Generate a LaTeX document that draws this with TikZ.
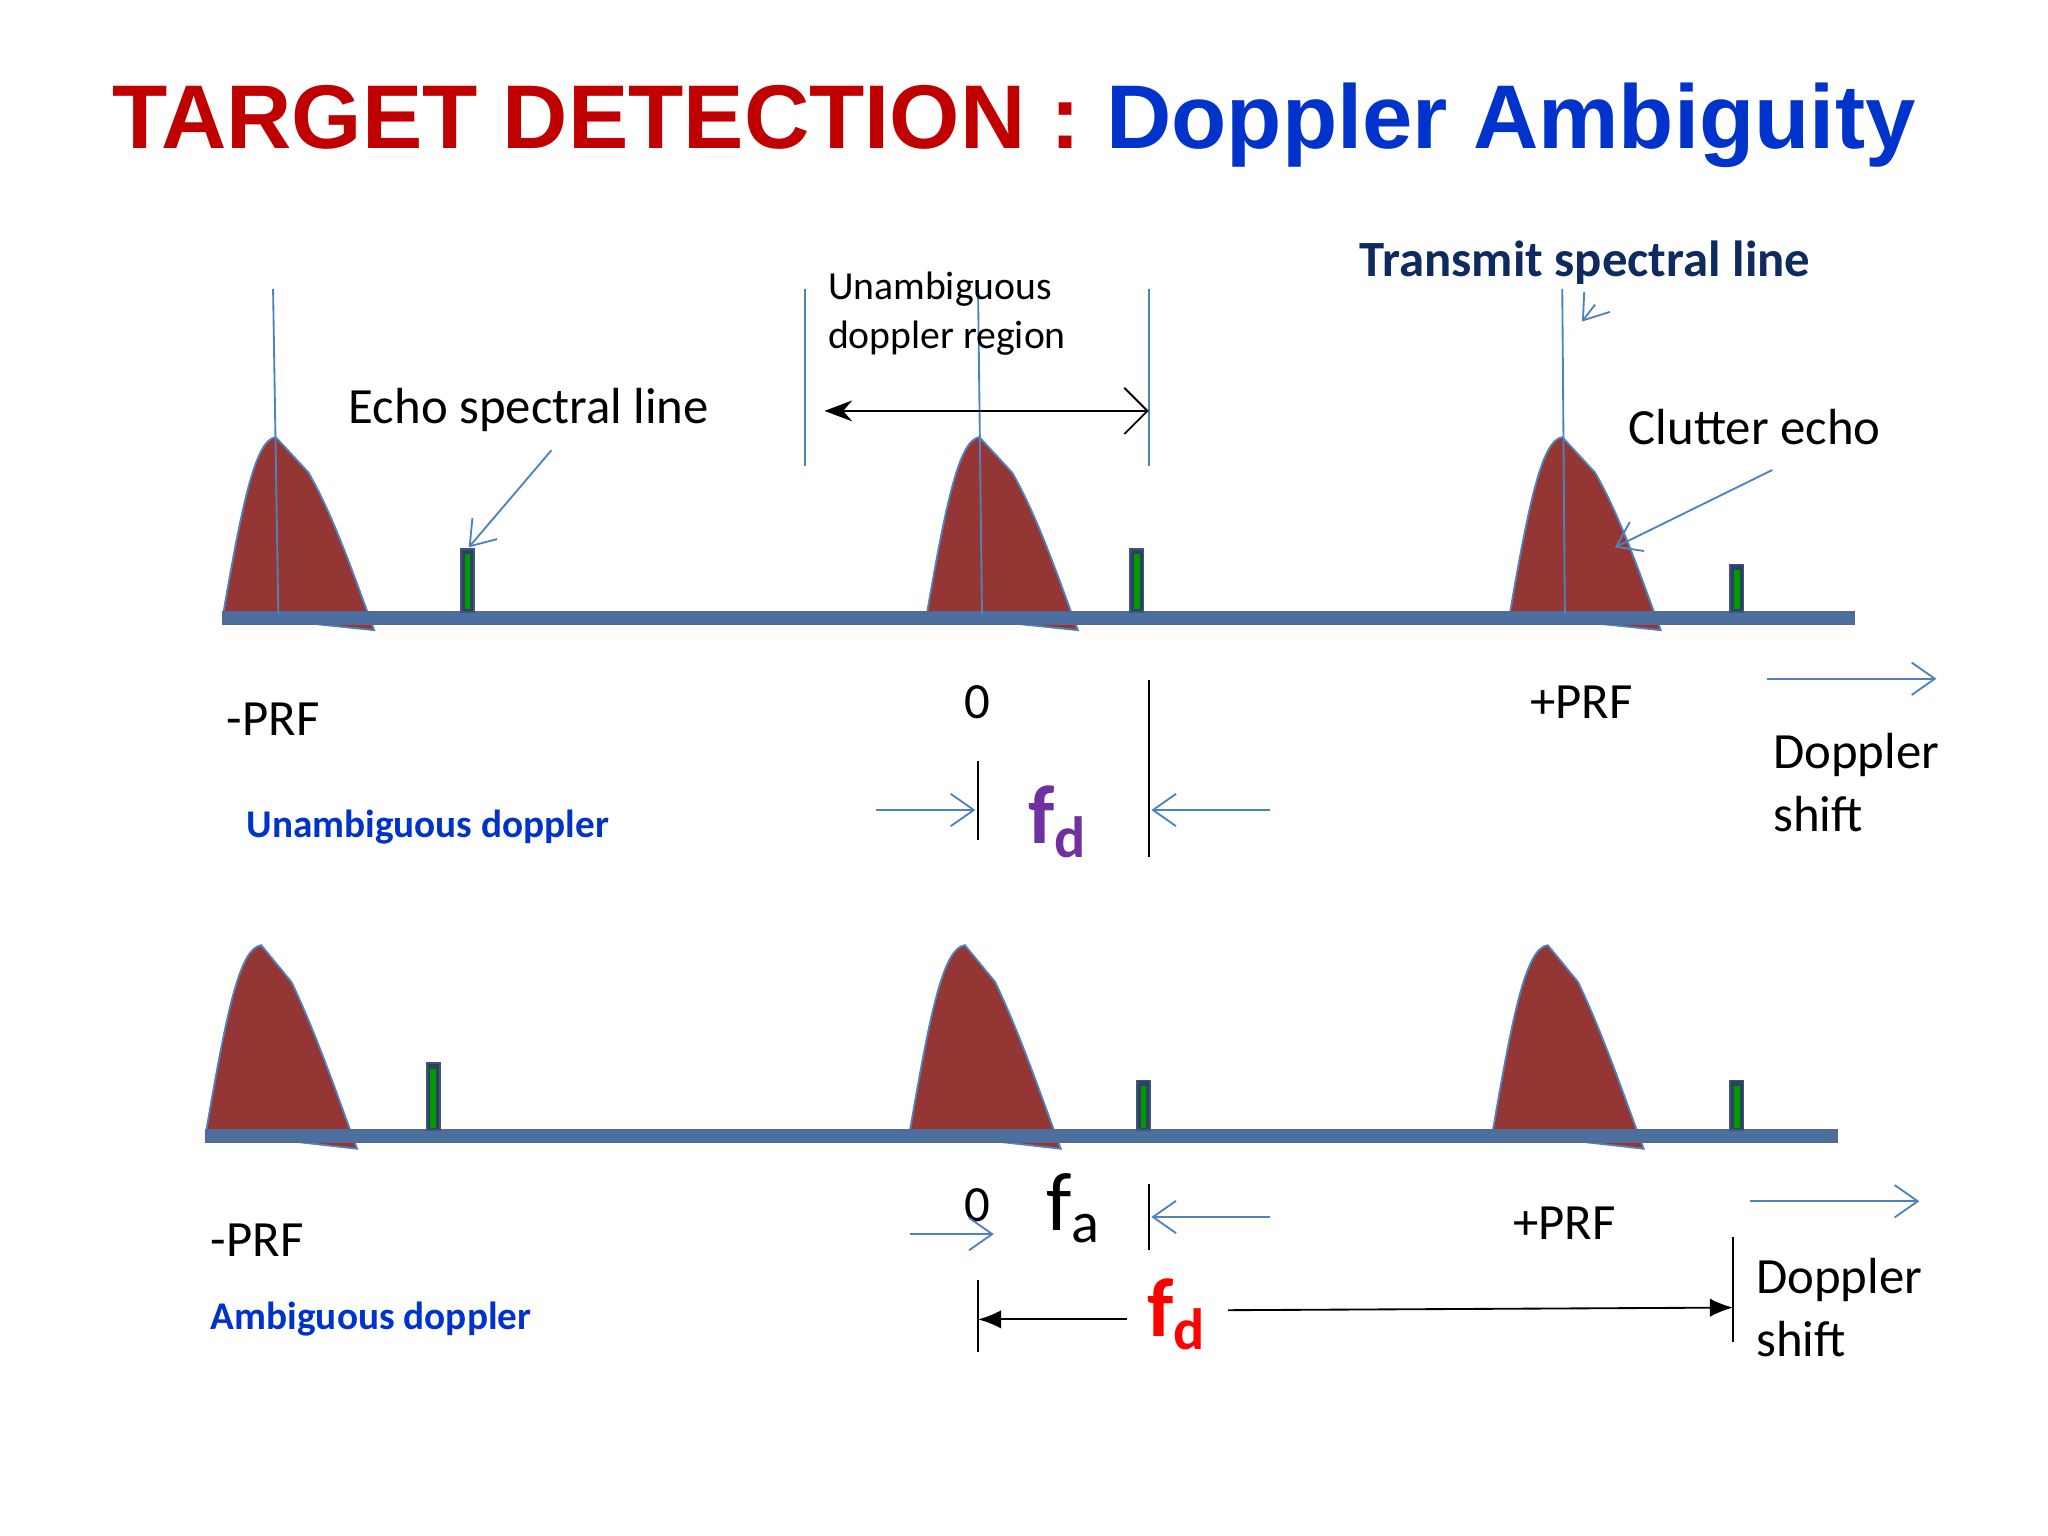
\documentclass[tikz,border=0pt]{standalone}
\usepackage{fontspec}
\setmainfont{Carlito}
\newfontfamily\titlefont{Liberation Sans}
\usetikzlibrary{arrows.meta}
\definecolor{brn}{HTML}{943634}
\definecolor{edge}{HTML}{4F81BD}
\definecolor{axisc}{HTML}{4A6FA0}
\definecolor{navy}{HTML}{0F2A5E}
\definecolor{tred}{HTML}{C00000}
\definecolor{tblue}{HTML}{0033CC}
\definecolor{purp}{HTML}{7030A0}
\begin{document}
\begin{tikzpicture}[x=0.01cm,y=-0.01cm,
  txt/.style={font=\fontsize{11}{13.6}\selectfont,inner sep=0,anchor=west},
  small/.style={font=\fontsize{8.6}{10.5}\selectfont,inner sep=0,anchor=west,align=left},
  lab/.style={font=\bfseries\fontsize{8.5}{10}\selectfont,text=tblue,inner sep=0,anchor=west},
  bl/.style={draw=edge,thin},
  barr/.style={draw=edge,thin,-{Straight Barb[length=5pt,width=7pt]}},
  karr/.style={draw=black,thin,-{Latex[length=5pt,width=4pt]}},
  peak/.style={fill=brn,draw=edge,thin},
  axis/.style={fill=axisc,draw=navy!70,thin},
  gbar/.style={fill=axisc!60!black,draw=navy!80}]
\useasboundingbox (0,0) rectangle (1560,1170);
\node[inner sep=0,anchor=base west] (title) at (85,113) {\titlefont\bfseries\fontsize{19.6}{22}\selectfont\textcolor{tred}{TARGET DETECTION : }\textcolor{tblue}{Doppler Ambiguity}};
% top row
\foreach \x in {170,706,1150}{
  \path[peak] (\x,468) .. controls (\x+15,380) and (\x+25,335) .. (\x+40,333) -- (\x+65,360) .. controls (\x+85,395) and (\x+100,440) .. (\x+115,480) -- cycle;}
\path[axis] (170,466) rectangle (1412,475);
\foreach \x/\t in {356/418,866/418,1323/430}{
  \path[gbar] (\x-5,\t) rectangle (\x+5,466);
  \draw[green!60!black,line width=1.2pt] (\x,\t+4) -- (\x,464);}
\coordinate (v1a) at (208,220); \coordinate (v1b) at (212,468);
\coordinate (v2a) at (745,220); \coordinate (v2b) at (748,468);
\coordinate (v3a) at (1190,220); \coordinate (v3b) at (1192,468);
\coordinate (v4a) at (613,220); \coordinate (v4b) at (613,355);
\coordinate (v5a) at (875,220); \coordinate (v5b) at (875,355);
\foreach \n in {1,...,5} \draw[bl] (v\n a) -- (v\n b);
\coordinate (d1) at (628,313); \coordinate (d2) at (875,313);
\draw[thin,{Stealth[length=6pt]}-{Straight Barb[length=5pt]}] (d1) -- (d2);
\node[small] (unreg) at (630,239) {Unambiguous\\doppler region};
\node[txt] (echo) at (265,312) {Echo spectral line};
\coordinate (e1) at (420,343); \coordinate (e2) at (357,417);
\draw[barr] (e1) -- (e2);
\node[txt,font=\bfseries\fontsize{11}{13}\selectfont,text=navy] (trans) at (1035,200) {Transmit spectral line};
\coordinate (t1) at (1215,232); \coordinate (t2) at (1205,245);
\draw[barr] (t1) -- (t2);
\node[txt] (clut) at (1240,325) {Clutter echo};
\coordinate (c1) at (1350,358); \coordinate (c2) at (1230,417);
\draw[barr] (c1) -- (c2);
\node[txt] (mprf1) at (172,548) {-PRF};
\node[txt] (zero1) at (734,535) {0};
\node[txt] (pprf1) at (1165,535) {+PRF};
\coordinate (s1) at (1346,517); \coordinate (s2) at (1475,517);
\draw[barr] (s1) -- (s2);
\node[txt,align=left] (ds1) at (1350,596) {Doppler\\shift};
\node[lab] (unamb) at (187,630) {Unambiguous doppler};
\coordinate (l1a) at (745,580); \coordinate (l1b) at (745,640);
\coordinate (l2a) at (875,518); \coordinate (l2b) at (875,653);
\draw (l1a) -- (l1b); \draw (l2a) -- (l2b);
\coordinate (a1) at (667,617); \coordinate (a2) at (743,617);
\coordinate (a3) at (967,617); \coordinate (a4) at (877,617);
\draw[barr] (a1) -- (a2); \draw[barr] (a3) -- (a4);
\node[inner sep=0,text=purp,font=\bfseries\fontsize{18}{22}\selectfont] (fd1) at (806,626) {f\textsubscript{d}};
% bottom row
\foreach \x in {157,693,1137}{
  \path[peak] (\x,862) .. controls (\x+15,775) and (\x+25,722) .. (\x+42,720) -- (\x+65,748) .. controls (\x+85,790) and (\x+100,835) .. (\x+115,875) -- cycle;}
\path[axis] (157,861) rectangle (1399,870);
\foreach \x/\t in {330/810,871/823,1323/823}{
  \path[gbar] (\x-5,\t) rectangle (\x+5,861);
  \draw[green!60!black,line width=1.2pt] (\x,\t+4) -- (\x,859);}
\node[txt] (mprf2) at (160,945) {-PRF};
\node[txt] (zero2) at (734,918) {0};
\node[inner sep=0,font=\fontsize{18}{22}\selectfont] (fa) at (818,920) {f\textsubscript{a}};
\node[txt] (pprf2) at (1152,932) {+PRF};
\coordinate (b1) at (693,940); \coordinate (b2) at (757,940);
\draw[barr] (b1) -- (b2);
\coordinate (m1a) at (875,902); \coordinate (m1b) at (875,952);
\draw (m1a) -- (m1b);
\coordinate (b3) at (967,927); \coordinate (b4) at (877,927);
\draw[barr] (b3) -- (b4);
\coordinate (b5) at (1333,915); \coordinate (b6) at (1462,915);
\draw[barr] (b5) -- (b6);
\node[txt,align=left] (ds2) at (1337,996) {Doppler\\shift};
\node[lab] (amb) at (160,1005) {Ambiguous doppler};
\coordinate (m2a) at (745,975); \coordinate (m2b) at (745,1030);
\coordinate (m3a) at (1320,942); \coordinate (m3b) at (1320,1022);
\draw (m2a) -- (m2b); \draw (m3a) -- (m3b);
\node[inner sep=0,text=red,font=\bfseries\fontsize{18}{22}\selectfont] (fd2) at (897,1001) {f\textsubscript{d}};
\coordinate (r1) at (745,1005); \coordinate (r2) at (1320,996);
\draw[karr] (fd2.west|-r1) ++(-15,0) -- (r1);
\draw[karr] (fd2.east|-0,998) ++(15,0) -- (r2);
\end{tikzpicture}
\end{document}
